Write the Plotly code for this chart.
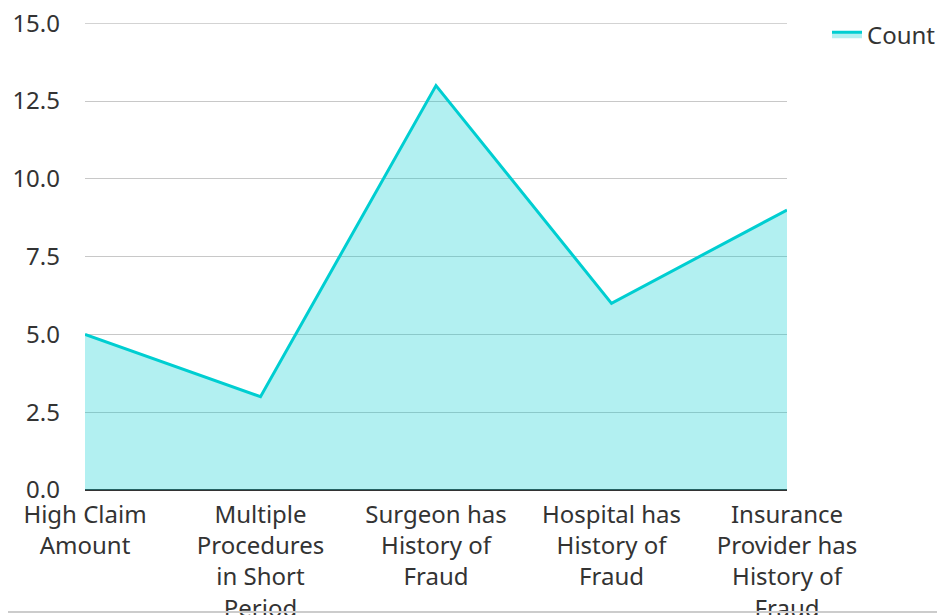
import plotly.graph_objects as go

categories = [
    "High Claim<br>Amount",
    "Multiple<br>Procedures<br>in Short<br>Period",
    "Surgeon has<br>History of<br>Fraud",
    "Hospital has<br>History of<br>Fraud",
    "Insurance<br>Provider has<br>History of<br>Fraud",
]
counts = [5, 3, 13, 6, 9]
y_ticks = [0, 2.5, 5, 7.5, 10, 12.5, 15]
series_name = "Count"

W, H = 937, 607
L, T = 77, 15
PW, PH = 702, 467
R, B = W - L - PW, H - T - PH

fig = go.Figure()
fig.add_trace(go.Scatter(
    x=categories, y=counts, name=series_name, mode="lines",
    line=dict(color="rgb(0,206,209)", width=3),
    fill="tozeroy", fillcolor="rgba(0,206,209,0.3)",
))
fig.update_layout(
    width=W, height=H,
    margin=dict(l=L, r=R, t=T, b=B, autoexpand=False),
    paper_bgcolor="white", plot_bgcolor="white",
    font=dict(family="Noto Sans", size=24, color="#333"),
    showlegend=True,
    legend=dict(x=(819 - L) / PW, y=1.023, xanchor="left", yanchor="top",
                font=dict(size=24), bgcolor="rgba(0,0,0,0)"),
    xaxis=dict(range=[0, 4], showgrid=False, zeroline=False, ticks="",
               showline=False, tickfont=dict(size=24), automargin=False,
               ticklabelstandoff=8, ticklabeloverflow="allow"),
    yaxis=dict(range=[0, 15.01], tickvals=y_ticks, tickformat=".1f",
               showgrid=True, gridcolor="#c8c8c8", gridwidth=1,
               zeroline=True, zerolinecolor="#333", zerolinewidth=2,
               ticks="", ticklen=0, tickfont=dict(size=24), automargin=False,
               ticklabelstandoff=24, ticklabeloverflow="allow"),
)
fig.add_shape(type="line", xref="paper", yref="y", x0=0, x1=1,
              y0=y_ticks[-1], y1=y_ticks[-1], line=dict(color="#c8c8c8", width=1),
              layer="below")
fig.add_shape(type="line", xref="paper", yref="paper", x0=-L / PW, x1=(W - L) / PW,
              y0=-122 / PH, y1=-122 / PH, line=dict(color="#cccccc", width=2))
fig.write_html("out.html")
